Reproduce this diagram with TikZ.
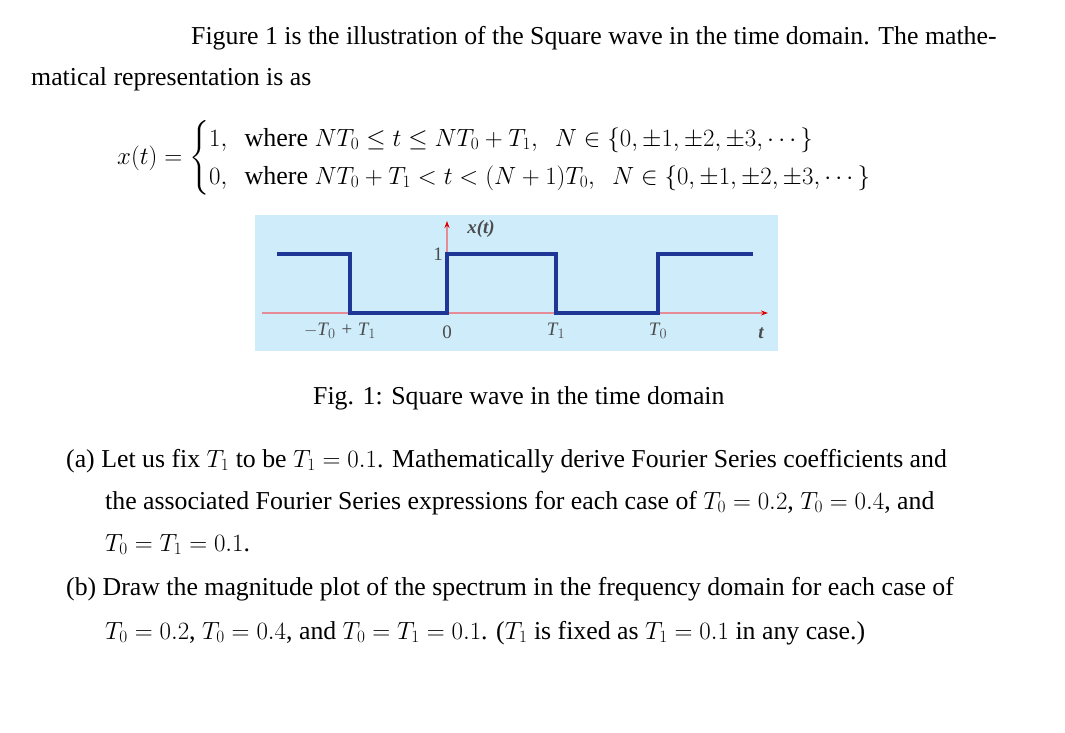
\documentclass[tikz,border=0pt]{standalone}
\usepackage{amsmath}
\usepackage{fontspec}
\setmainfont{Liberation Serif}
\usetikzlibrary{arrows.meta}
\begin{document}
\begin{tikzpicture}[x=1pt,y=-1pt,
  txt/.style={anchor=base west,inner sep=0,font=\fontsize{25.8}{30}\selectfont},
  lbl/.style={inner sep=0,font=\fontsize{19}{22}\selectfont\itshape,text=black!70},
  wave/.style={draw={rgb,255:red,30;green,55;blue,150},line width=3.5pt},
  ax/.style={draw={rgb,255:red,230;green,140;blue,150},line width=1.2pt,-{Stealth[length=7pt,width=5pt,color=red!85!black]}}]
\useasboundingbox (0,0) rectangle (1065,733);
\node[txt] (l1) at (191,45) {Figure 1 is the illustration of the Square wave in the time domain. The mathe-};
\node[txt] (l2) at (31,86) {matical representation is as};
\node[anchor=west,inner sep=0,font=\fontsize{26}{30}\selectfont] (eq) at (117,158)
 {$x(t)=\begin{cases}1,\ \ \text{where } NT_0\le t\le NT_0+T_1,\ \ N\in\{0,\pm1,\pm2,\pm3,\cdots\}\\[2pt]
 0,\ \ \text{where } NT_0+T_1<t<(N+1)T_0,\ \ N\in\{0,\pm1,\pm2,\pm3,\cdots\}\end{cases}$};
% figure
\fill[fill={rgb,255:red,206;green,236;blue,250}] (255,215) rectangle (778,351);
\coordinate (ax0) at (262,313); \coordinate (ax1) at (768,313);
\coordinate (ay0) at (447,313); \coordinate (ay1) at (447,221);
\draw[ax] (ax0) -- (ax1);
\draw[ax] (ay0) -- (ay1);
\draw[wave] (277,254) -- (350,254) -- (350,313) -- (447,313) -- (447,254) -- (556,254) -- (556,313) -- (658,313) -- (658,254) -- (753,254);
\node[lbl,font=\fontsize{19}{22}\selectfont\bfseries\itshape] (xt) at (481,229) {x(t)};
\node[lbl,font=\fontsize{19}{22}\selectfont] (one) at (438,254) {1};
\node[lbl] (m) at (340,331) {$-$T$_0$ + T$_1$};
\node[lbl,font=\fontsize{19}{22}\selectfont] (z) at (447,332) {0};
\node[lbl] (t1) at (556,331) {T$_1$};
\node[lbl] (t0) at (658,331) {T$_0$};
\node[lbl,font=\fontsize{19}{22}\selectfont\bfseries\itshape] (t) at (761,333) {t};
\node[txt] (cap) at (313,404) {Fig. 1: Square wave in the time domain};
\node[txt] (a1) at (66,467) {(a) Let us fix $T_1$ to be $T_1=0.1$. Mathematically derive Fourier Series coefficients and};
\node[txt] (a2) at (105,509) {the associated Fourier Series expressions for each case of $T_0=0.2$, $T_0=0.4$, and};
\node[txt] (a3) at (105,551) {$T_0=T_1=0.1$.};
\node[txt] (b1) at (66,595) {(b) Draw the magnitude plot of the spectrum in the frequency domain for each case of};
\node[txt] (b2) at (105,639) {$T_0=0.2$, $T_0=0.4$, and $T_0=T_1=0.1$. ($T_1$ is fixed as $T_1=0.1$ in any case.)};
\end{tikzpicture}
\end{document}
